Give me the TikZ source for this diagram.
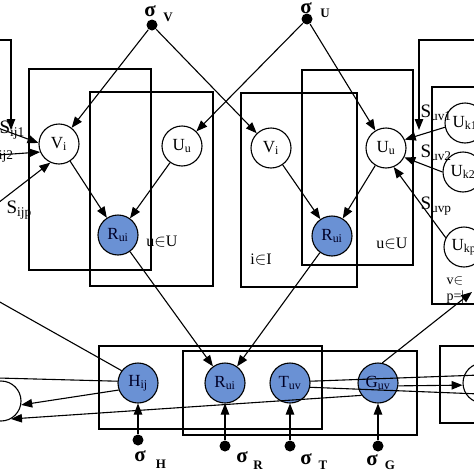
\documentclass[tikz,border=0pt]{standalone}
\usepackage{fontspec}
\setmainfont{Liberation Serif}
\usetikzlibrary{arrows.meta}
\definecolor{nodeblue}{RGB}{106,145,212}
\begin{document}
\begin{tikzpicture}[x=1pt,y=-1pt,line width=1.1pt,
                var/.style={circle,draw,fill=white,minimum size=40pt,inner sep=0pt,font=\fontsize{17}{17}\selectfont},
                obs/.style={var,fill=nodeblue,text=black!85!blue},
                hyp/.style={circle,fill,inner sep=0pt,minimum size=11pt},
                sig/.style={font=\fontsize{21}{21}\selectfont\bfseries,inner sep=0pt},
                sigsub/.style={font=\fontsize{13}{13}\selectfont\bfseries,inner sep=0pt},
                lbl/.style={font=\fontsize{16}{16}\selectfont,inner sep=0pt},
                slbl/.style={font=\fontsize{19}{19}\selectfont,inner sep=0pt},
                arr/.style={-{Triangle[length=11pt,width=8.5pt]}}]
                \useasboundingbox (0,0) rectangle (474,474);
                \draw (29,69) rectangle (151,270);
                \draw (90,92) rectangle (213,286);
                \draw (241,93) rectangle (357,287);
                \draw (302,70) rectangle (413,265);
                \draw (432,87) rectangle (480,304);
                \draw (99,346) rectangle (322,429);
                \draw (183,351) rectangle (417,435);
                \draw (440,346) rectangle (480,423);
                \node[var] (Vl) at (59,144) {V\textsubscript{i}};
                \node[var] (Ul) at (182,146) {U\textsubscript{u}};
                \node[obs] (Rl) at (118,235) {R\textsubscript{ui}};
                \node[var] (Vm) at (271,148) {V\textsubscript{i}};
                \node[var] (Um) at (386,148) {U\textsubscript{u}};
                \node[obs] (Rm) at (332,236) {R\textsubscript{ui}};
                \node[var] (Uk1) at (465,123) {U\textsubscript{k1}};
                \node[var] (Uk2) at (463,172) {U\textsubscript{k2}};
                \node[var] (Ukp) at (464,247) {U\textsubscript{kp}};
                \node[obs] (H) at (138,383) {H\textsubscript{ij}};
                \node[obs] (Rb) at (225,383) {R\textsubscript{ui}};
                \node[obs] (T) at (290,383) {T\textsubscript{uv}};
                \node[obs] (G) at (378,383) {G\textsubscript{uv}};
                \node[var] (Lc) at (1,401) {};
                \node[var] (Rc) at (483,383) {};
                \node[hyp] (sV) at (152,25) {};
                \node[hyp] (sU) at (307,19) {};
                \node[hyp] (sH) at (138,440) {};
                \node[hyp] (sR) at (225,446) {};
                \node[hyp] (sT) at (290,446) {};
                \node[hyp] (sG) at (378,446) {};
                \node[sig] (sVa) at (150,11) {σ};
                \node[sigsub] (sVb) at (168,17) {V};
                \node[sig] (sUa) at (306,8) {σ};
                \node[sigsub] (sUb) at (325,13) {U};
                \node[sig] (sHa) at (140,456) {σ};
                \node[sigsub] (sHb) at (161,464) {H};
                \node[sig] (sRa) at (242,457) {σ};
                \node[sigsub] (sRb) at (258,465) {R};
                \node[sig] (sTa) at (306,459) {σ};
                \node[sigsub] (sTb) at (323,465) {T};
                \node[sig] (sGa) at (372,460) {σ};
                \node[sigsub] (sGb) at (390,465) {G};
                \node[lbl] (inU1) at (162,242) {u$\in$U};
                \node[lbl] (inU2) at (392,244) {u$\in$U};
                \node[lbl] (inI) at (261,260) {i$\in$I};
                \node[lbl,anchor=west,font=\fontsize{14}{14}\selectfont] (inV) at (446,281) {v$\in$};
                \node[lbl,anchor=west,font=\fontsize{14}{14}\selectfont] (pEq) at (446,297) {p=|};
                \node[slbl,anchor=west] (Sij1) at (-1,130) {S\textsubscript{ij1}};
                \node[slbl,anchor=east] (Sij2) at (14,153) {S\textsubscript{ij2}};
                \node[slbl,anchor=west] (Sijp) at (6,210) {S\textsubscript{ijp}};
                \node[slbl,anchor=west] (Suv1) at (420,113) {S\textsubscript{uv1}};
                \node[slbl,anchor=west] (Suv2) at (420,153) {S\textsubscript{uv2}};
                \node[slbl,anchor=west] (Suvp) at (420,206) {S\textsubscript{uvp}};
                \coordinate (l1) at (-2,128);
                \coordinate (l2) at (-2,155);
                \coordinate (l3) at (-2,203);
                \coordinate (lt) at (-2,40);
                \coordinate (rt) at (480,40);
                \coordinate (lh1) at (-2,301);
                \coordinate (lh2) at (-2,378);
                \coordinate (rg1) at (480,375);
                \coordinate (rg2) at (480,394);
                \coordinate (rgu) at (472,292);
                \draw[arr] (lt) -- (11,40) -- (11,130);
                \draw[arr] (rt) -- (419,40) -- (419,130);
                \draw[arr] (l1) -- (Vl.177);
                \draw[arr] (l2) -- (Vl.203);
                \draw[arr] (l3) -- (Vl.245);
                \draw[arr] (Uk1.192) -- (Um.24);
                \draw[arr] (Uk2.180) -- (Um.-27);
                \draw[arr] (Ukp.153) -- (Um.-68);
                \draw[arr] (sV) -- (Vl);
                \draw[arr] (sV) -- (Vm);
                \draw[arr] (sU) -- (Ul);
                \draw[arr] (sU) -- (Um);
                \draw[arr] (Vl) -- (Rl);
                \draw[arr] (Ul) -- (Rl);
                \draw[arr] (Vm) -- (Rm);
                \draw[arr] (Um) -- (Rm);
                \draw[arr] (Rl) -- (Rb);
                \draw[arr] (Rm) -- (Rb);
                \draw[arr] (sH) -- (H);
                \draw[arr] (sR) -- (Rb);
                \draw[arr] (sT) -- (T);
                \draw[arr] (sG) -- (G);
                \draw (lh1) -- (H.143);
                \draw (lh2) -- (H.175);
                \draw[arr] (H.200) -- (Lc.-11);
                \draw[arr] (G.217) -- (Lc.-61);
                \draw (T.5) -- (rg1);
                \draw (T.-12) -- (rg2);
                \draw[arr] (G.-8) -- (Rc.186);
                \draw[arr] (G.78) -- (rgu);
                \end{tikzpicture}
\end{document}
